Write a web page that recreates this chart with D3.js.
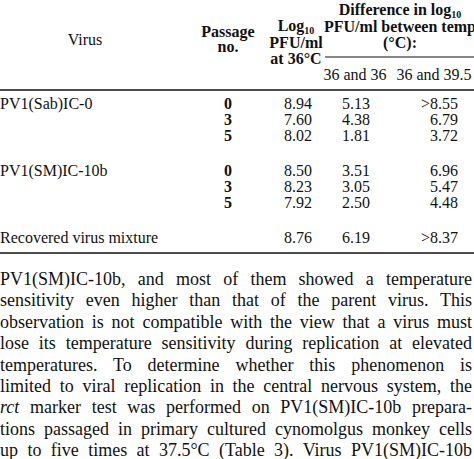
<!DOCTYPE html>
<html><head><meta charset="utf-8">
<script src="https://cdn.jsdelivr.net/npm/d3@7"></script>
<style>body{margin:0;background:#fff}svg{display:block}text{font-family:"Liberation Serif","DejaVu Serif",serif;fill:#111}</style>
</head><body><svg id="c" width="474" height="459"></svg>
<script>
const viruses = ["PV1(Sab)IC-0","","","PV1(SM)IC-10b","","","Recovered virus mixture"];
const passages = ["0","3","5","0","3","5",""];
const log36 = ["8.94","7.60","8.02","8.50","8.23","7.92","8.76"];
const diff36 = ["5.13","4.38","1.81","3.51","3.05","2.50","6.19"];
const diff395 = [">8.55","6.79","3.72","6.96","5.47","4.48",">8.37"];
const rowSlots = [0,1,2,4.2,5.2,6.2,8.4];
const paragraph = [
 "PV1(SM)IC-10b, and most of them showed a temperature",
 "sensitivity even higher than that of the parent virus. This",
 "observation is not compatible with the view that a virus must",
 "lose its temperature sensitivity during replication at elevated",
 "temperatures. To determine whether this phenomenon is",
 "limited to viral replication in the central nervous system, the",
 "rct marker test was performed on PV1(SM)IC-10b prepara-",
 "tions passaged in primary cultured cynomolgus monkey cells",
 "up to five times at 37.5°C (Table 3). Virus PV1(SM)IC-10b"
];
const svg = d3.select("#c");
const y = d3.scaleLinear().domain([0,8.4]).range([109,243]);
const fs = 16;
function t(x,yy,s,anchor,opt={}){
  const e=svg.append("text").attr("x",x).attr("y",yy).attr("font-size",opt.fs||fs).attr("text-anchor",anchor||"start");
  if(opt.bold) e.attr("font-weight","bold");
  return e.text(s);
}
t(85,45,"Virus","middle");
t(228,37,"Passage","middle",{bold:true}); t(228,52,"no.","middle",{bold:true});
const h=t(296,31,"Log","middle",{bold:true}); h.append("tspan").attr("font-size",10).attr("dy",3).text("10");
t(296,48,"PFU/ml","middle",{bold:true}); t(296,64,"at 36°C","middle",{bold:true});
const d=t(400,15,"Difference in log","middle",{bold:true}); d.append("tspan").attr("font-size",10).attr("dy",3).text("10");
t(400,32,"PFU/ml between temp","middle",{bold:true}); t(400,48,"(°C):","middle",{bold:true});
svg.append("line").attr("x1",325).attr("x2",474).attr("y1",57).attr("y2",57).attr("stroke","#111").attr("stroke-width",1.2);
t(355,80,"36 and 36","middle"); t(434,80,"36 and 39.5","middle");
svg.append("line").attr("x1",0).attr("x2",474).attr("y1",90).attr("y2",90).attr("stroke","#111").attr("stroke-width",1.6);
rowSlots.forEach((s,i)=>{
  const yy=y(s);
  if(viruses[i]) t(0,yy,viruses[i],"start");
  t(228,yy,passages[i],"middle",{bold:true});
  t(312,yy,log36[i],"end");
  t(370,yy,diff36[i],"end");
  t(458,yy,diff395[i],"end");
});
svg.append("line").attr("x1",0).attr("x2",474).attr("y1",253).attr("y2",253).attr("stroke","#111").attr("stroke-width",1.6);
const py = d3.scaleLinear().domain([0,8]).range([285,456]);
paragraph.forEach((l,i)=>{
  const e=svg.append("text").attr("x",0).attr("y",py(i)).attr("font-size",18);
  if(i===6){e.append("tspan").attr("font-style","italic").text("rct");e.append("tspan").text(l.slice(3));}
  else e.text(l);
  const w=e.node().getComputedTextLength();
  const sp=(l.match(/ /g)||[]).length;
  if(sp) e.attr("word-spacing",Math.max(0,(472-w)/sp));
});
</script></body></html>
